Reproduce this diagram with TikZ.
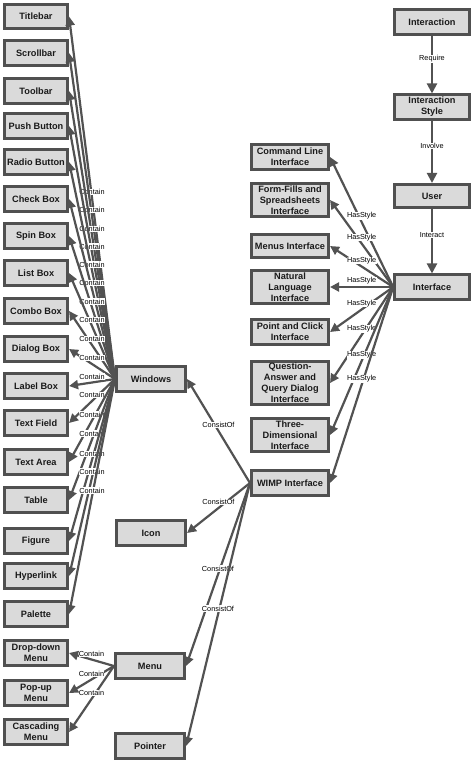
\documentclass[tikz,border=0pt]{standalone}
\usepackage{fontspec}
\setmainfont{Liberation Sans}
\usetikzlibrary{arrows.meta}
\definecolor{boxfill}{HTML}{DADADA}
\definecolor{boxline}{HTML}{505050}
\definecolor{edgecol}{HTML}{525252}
\definecolor{txt}{HTML}{1A1A1A}
\begin{document}
\begin{tikzpicture}[x=1pt,y=-1pt,
  box/.style={draw=boxline, line width=2.6pt, fill=boxfill, text=txt, align=center, inner sep=0pt,
    font=\bfseries\fontsize{9.2}{11}\selectfont},
  lbox/.style={box, minimum width=63.5pt, minimum height=24.5pt},
  mbox/.style={box, minimum width=69.5pt, minimum height=24.5pt},
  rbox/.style={box, minimum width=77.5pt},
  cbox/.style={box, minimum width=75pt},
  rel/.style={draw=edgecol, line width=2.2pt, -{Triangle[length=9pt,width=9pt]}},
  vrel/.style={rel, -{Triangle[length=10pt,width=10pt]}},
  lab/.style={font=\fontsize{7.3}{8}\selectfont, fill=white, inner sep=0.4pt, text=black, midway, yshift=6pt}
]
\useasboundingbox (0,0) rectangle (474,761);

% left column
\node[lbox] (t1)  at (36,16.5) {Titlebar};
\node[lbox] (t2)  at (36,53)  {Scrollbar};
\node[lbox] (t3)  at (36,91)  {Toolbar};
\node[lbox] (t4)  at (36,126) {Push Button};
\node[lbox] (t5)  at (36,162) {Radio Button};
\node[lbox] (t6)  at (36,199) {Check Box};
\node[lbox] (t7)  at (36,236) {Spin Box};
\node[lbox] (t8)  at (36,273) {List Box};
\node[lbox] (t9)  at (36,311) {Combo Box};
\node[lbox] (t10) at (36,349) {Dialog Box};
\node[lbox] (t11) at (36,386) {Label Box};
\node[lbox] (t12) at (36,423) {Text Field};
\node[lbox] (t13) at (36,462) {Text Area};
\node[lbox] (t14) at (36,500) {Table};
\node[lbox] (t15) at (36,541) {Figure};
\node[lbox] (t16) at (36,576) {Hyperlink};
\node[lbox] (t17) at (36,614) {Palette};
\node[lbox] (m1)  at (36,653) {Drop-down\\Menu};
\node[lbox] (m2)  at (36,693) {Pop-up\\Menu};
\node[lbox] (m3)  at (36,732) {Cascading\\Menu};

% middle column
\node[mbox] (win)  at (151,379) {Windows};
\node[mbox] (icon) at (151,533) {Icon};
\node[mbox] (menu) at (150,666) {Menu};
\node[mbox] (ptr)  at (150,746) {Pointer};

% style column
\node[rbox, minimum height=24.5pt] (cl) at (290,157) {Command Line\\Interface};
\node[rbox, minimum height=32.5pt] (ff) at (290,200) {Form-Fills and\\Spreadsheets\\Interface};
\node[rbox, minimum height=23.5pt] (mi) at (290,246) {Menus Interface};
\node[rbox, minimum height=32.5pt] (nl) at (290,287) {Natural\\Language\\Interface};
\node[rbox, minimum height=25.5pt] (pc) at (290,332) {Point and Click\\Interface};
\node[rbox, minimum height=42.5pt] (qa) at (290,383) {Question-\\Answer and\\Query Dialog\\Interface};
\node[rbox, minimum height=32.5pt] (td) at (290,435) {Three-\\Dimensional\\Interface};
\node[rbox, minimum height=25.5pt] (wimp) at (290,483) {WIMP Interface};

% right column
\node[cbox, minimum height=25.5pt] (ia)  at (432,22)  {Interaction};
\node[cbox, minimum height=24.5pt] (is)  at (432,107) {Interaction\\Style};
\node[cbox, minimum height=23.5pt] (usr) at (432,196) {User};
\node[cbox, minimum height=24.5pt] (ifc) at (432,287) {Interface};

% right column chain
\draw[vrel] (ia) -- (is) node[lab]{Require};
\draw[vrel] (is) -- (usr) node[lab]{Involve};
\draw[vrel] (usr) -- (ifc) node[lab]{Interact};

% interface styles
\foreach \n in {cl,ff,mi,nl,pc,qa,td,wimp}
  \draw[rel] (ifc.west) -- (\n.east) node[lab]{HasStyle};

% WIMP parts
\foreach \n in {win,icon,menu,ptr}
  \draw[rel] (wimp.west) -- (\n.east) node[lab]{ConsistOf};

% window contents
\foreach \n in {t1,t2,t3,t4,t5,t6,t7,t8,t9,t10,t11,t12,t13,t14,t15,t16,t17}
  \draw[rel] (win.west) -- (\n.east) node[lab]{Contain};

% menu contents
\foreach \n in {m1,m2,m3}
  \draw[rel] (menu.west) -- (\n.east) node[lab]{Contain};
\end{tikzpicture}
\end{document}
